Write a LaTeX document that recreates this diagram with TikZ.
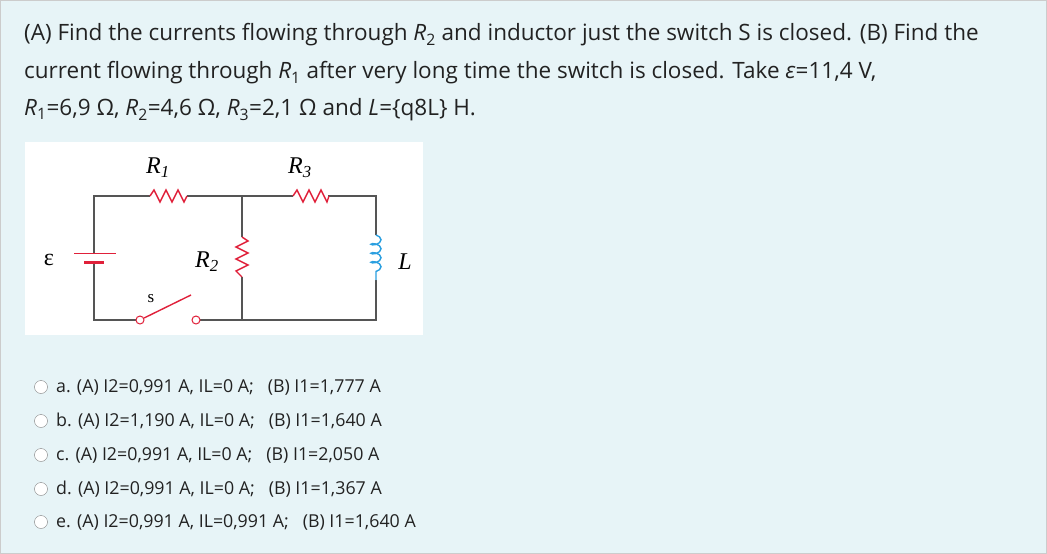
\documentclass[tikz,border=0pt]{standalone}
\usepackage{fontspec}
\setmainfont{Open Sans}
\newfontfamily\serifm{Liberation Serif}
\usetikzlibrary{calc,decorations.pathmorphing}
\definecolor{bgc}{HTML}{E7F4F7}
\definecolor{wirec}{HTML}{555555}
\definecolor{resc}{HTML}{E0203A}
\definecolor{indc}{HTML}{2A9FE0}
\definecolor{txtc}{HTML}{222222}
\tikzset{wire/.style={draw=wirec,line width=1.1pt},
 res/.style={draw=resc,line width=1.4pt},
 qtxt/.style={anchor=west,inner sep=0,font=\fontsize{22.5}{26}\selectfont,text=txtc},
 opt/.style={anchor=west,inner sep=0,font=\fontsize{17.8}{20}\selectfont,text=txtc},
 radio/.style={circle,draw=gray,fill=white,minimum size=13pt,inner sep=0},
 clab/.style={inner sep=0,font=\serifm\itshape\fontsize{24}{26}\selectfont}}
\newcommand{\Rs}[1]{\textit{R}\textsubscript{#1}}
\begin{document}
\begin{tikzpicture}[x=1pt,y=-1pt]
\fill[bgc] (0,0) rectangle (1047,554);
\draw[gray!40] (0.5,0.5) rectangle (1046.5,553.5);
\node[qtxt] (l1) at (24,35) {(A) Find the currents flowing through \Rs{2} and inductor just the switch S is closed. (B) Find the};
\node[qtxt] (l2) at (24,73) {current flowing through \Rs{1} after very long time the switch is closed. Take \textit{ε}=11,4 V,};
\node[qtxt] (l3) at (24,110) {\Rs{1}=6,9 Ω, \Rs{2}=4,6 Ω, \Rs{3}=2,1 Ω and \textit{L}=\{q8L\} H.};
% circuit
\fill[white] (25,142) rectangle (423,335);
\coordinate (tl) at (94,196); \coordinate (tm) at (242,196); \coordinate (tr) at (376,196);
\coordinate (bl) at (94,320); \coordinate (bm) at (242,320); \coordinate (br) at (376,320);
\draw[wire] (94,253) -- (tl) -- (150,196);
\draw[wire] (187,196) -- (293,196); \draw[wire] (328,196) -- (tr) -- (376,235);
\draw[wire] (376,280) -- (br) -- (bm) -- (200,320);
\draw[wire] (tm) -- (242,237); \draw[wire] (242,277) -- (bm);
\draw[wire] (94,262) -- (bl) -- (136,320);
\draw[res] (150,196) -- (154,190) -- (160,202) -- (166,190) -- (172,202) -- (178,190) -- (184,202) -- (187,196);
\draw[res] (293,196) -- (297,190) -- (303,202) -- (309,190) -- (315,202) -- (321,190) -- (327,202) -- (329,196);
\draw[res] (242,237) -- (248,241) -- (236,247) -- (248,253) -- (236,259) -- (248,265) -- (236,271) -- (242,277);
\draw[indc,line width=1.4pt,decorate,decoration={coil,aspect=0.5,segment length=9pt,amplitude=5pt}] (376,235) -- (376,280);
\draw[resc,line width=0.8pt] (74,253) -- (116,253);
\draw[resc,line width=3pt] (84,262) -- (104,262);
\node[circle,draw=resc,fill=white,line width=1pt,minimum size=8pt,inner sep=0] (s1) at (140,320) {};
\node[circle,draw=resc,fill=white,line width=1pt,minimum size=8pt,inner sep=0] (s2) at (196,320) {};
\draw[resc,line width=1.4pt] (s1) -- (191,295);
\node[inner sep=0,font=\serifm\fontsize{17}{18}\selectfont] (S) at (151,299) {s};
\node[inner sep=0,font=\serifm\fontsize{24}{24}\selectfont] (eps) at (49,260) {ε};
\node[clab] (r1) at (158,168) {R\textsubscript{1}};
\node[clab] (r3) at (300,168) {R\textsubscript{3}};
\node[clab] (r2) at (207,262) {R\textsubscript{2}};
\node[clab] (L) at (405,262) {L};
% options
\foreach \y/\t [count=\k] in {387/{a. (A) I2=0,991 A, IL=0 A;\ \ \ (B) I1=1,777 A},
 421/{b. (A) I2=1,190 A, IL=0 A;\ \ \ (B) I1=1,640 A},
 455/{c. (A) I2=0,991 A, IL=0 A;\ \ \ (B) I1=2,050 A},
 489/{d. (A) I2=0,991 A, IL=0 A;\ \ \ (B) I1=1,367 A},
 522/{e. (A) I2=0,991 A, IL=0,991 A;\ \ \ (B) I1=1,640 A}}{
 \node[radio] (rb\k) at (41,\y) {};
 \node[opt] (o\k) at (56,\y) {\t};
}
\end{tikzpicture}
\end{document}
